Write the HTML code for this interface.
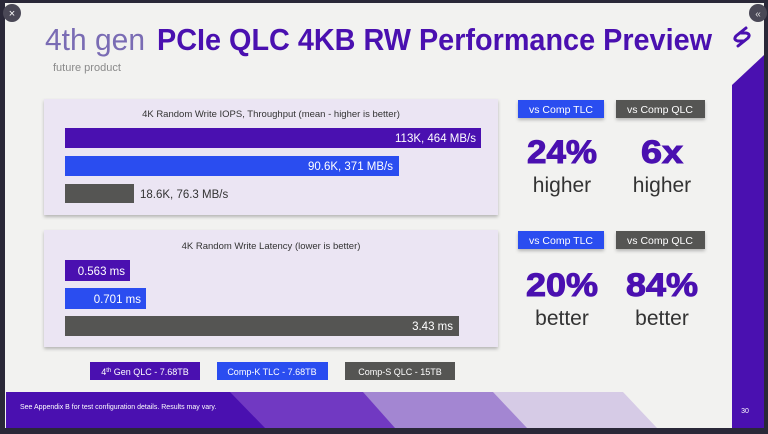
<!DOCTYPE html>
<html><head><meta charset="utf-8"><style>
html,body{margin:0;padding:0;background:#2a2838;}
svg{display:block;font-family:"Liberation Sans",sans-serif;}
</style></head><body>
<svg width="768" height="434" viewBox="0 0 768 434" xmlns="http://www.w3.org/2000/svg">
<defs>
<filter id="sh" x="-5%" y="-10%" width="110%" height="130%"><feDropShadow dx="0" dy="2" stdDeviation="1.5" flood-color="#000" flood-opacity="0.25"/></filter>
</defs>
<rect x="0" y="0" width="768" height="434" fill="#2a2838"/>
<rect x="5" y="3" width="759" height="425" fill="#f2f2f0"/>
<polygon points="732,85 764,55 764,428 732,428" fill="#4a10b0"/>
<text x="745" y="413" font-size="7" fill="#fff" text-anchor="middle">30</text>
<polygon points="623,392 657,428 6,428 6,392" fill="#d6cbe6"/>
<polygon points="493,392 527,428 6,428 6,392" fill="#a386d2"/>
<polygon points="363,392 395,428 6,428 6,392" fill="#7139c2"/>
<polygon points="230,392 265,428 6,428 6,392" fill="#4a10b0"/>
<text x="20" y="409" font-size="7" fill="#fff">See Appendix B for test configuration details. Results may vary.</text>
<text x="45" y="50" font-size="31" fill="#7a6cb4" textLength="100" lengthAdjust="spacingAndGlyphs">4th gen</text>
<text x="157" y="50" font-size="31" fill="#4a10b0" font-weight="bold" textLength="555" lengthAdjust="spacingAndGlyphs">PCIe QLC 4KB RW Performance Preview</text>
<text x="53" y="71" font-size="11" fill="#8a8a8a">future product</text>
<g fill="none" stroke="#4a10b0" stroke-width="3" stroke-linecap="round">
<path d="M746,28 L736,36 Q733,40 738,41 L744,41"/>
<path d="M738,46 L748,38 Q751,34 746,33 L740,33"/>
</g>
<circle cx="12" cy="13" r="9" fill="#4a4856"/>
<text x="12" y="17" font-size="11" fill="#fff" text-anchor="middle">×</text>
<circle cx="758" cy="13" r="9" fill="#4a4856"/>
<text x="758" y="17" font-size="10" fill="#ddd" text-anchor="middle">«</text>
<rect x="44" y="99" width="454" height="116" fill="#ebe5f3" filter="url(#sh)"/>
<text x="271" y="117" font-size="9.5" fill="#333" text-anchor="middle">4K Random Write IOPS, Throughput (mean - higher is better)</text>
<rect x="65" y="128" width="416" height="20" fill="#4a10b0"/>
<text x="476" y="142" font-size="11.5" fill="#fff" text-anchor="end">113K, 464 MB/s</text>
<rect x="65" y="156" width="334" height="20" fill="#2a4df0"/>
<text x="393" y="170" font-size="11.5" fill="#fff" text-anchor="end">90.6K, 371 MB/s</text>
<rect x="65" y="184" width="69" height="19" fill="#555553"/>
<text x="140" y="198" font-size="11.5" fill="#333">18.6K, 76.3 MB/s</text>
<rect x="44" y="230" width="454" height="117" fill="#ebe5f3" filter="url(#sh)"/>
<text x="271" y="249" font-size="9.5" fill="#333" text-anchor="middle">4K Random Write Latency (lower is better)</text>
<rect x="65" y="260" width="65" height="21" fill="#4a10b0"/>
<text x="125" y="275" font-size="11.5" fill="#fff" text-anchor="end">0.563 ms</text>
<rect x="65" y="288" width="81" height="21" fill="#2a4df0"/>
<text x="141" y="303" font-size="11.5" fill="#fff" text-anchor="end">0.701 ms</text>
<rect x="65" y="316" width="394" height="20" fill="#555553"/>
<text x="453" y="330" font-size="11.5" fill="#fff" text-anchor="end">3.43 ms</text>
<rect x="90" y="362" width="110" height="18" fill="#4a10b0"/>
<text x="145" y="375" font-size="9" fill="#fff" text-anchor="middle">4<tspan font-size="6" dy="-3">th</tspan><tspan dy="3"> Gen QLC - 7.68TB</tspan></text>
<rect x="217" y="362" width="111" height="18" fill="#2a4df0"/>
<text x="272" y="375" font-size="9" fill="#fff" text-anchor="middle">Comp-K TLC - 7.68TB</text>
<rect x="345" y="362" width="110" height="18" fill="#555553"/>
<text x="400" y="375" font-size="9" fill="#fff" text-anchor="middle">Comp-S QLC - 15TB</text>
<g filter="url(#sh)">
<rect x="518" y="100" width="86" height="18" fill="#2a4df0"/>
<rect x="616" y="100" width="89" height="18" fill="#555553"/>
<rect x="518" y="231" width="86" height="18" fill="#2a4df0"/>
<rect x="616" y="231" width="89" height="18" fill="#555553"/>
</g>
<g font-size="10.5" fill="#fff" text-anchor="middle">
<text x="561" y="113">vs Comp TLC</text>
<text x="660" y="113">vs Comp QLC</text>
<text x="561" y="244">vs Comp TLC</text>
<text x="660" y="244">vs Comp QLC</text>
</g>
<g font-size="32" font-weight="bold" fill="#4a10b0" text-anchor="middle" stroke="#4a10b0" stroke-width="1">
<text x="562" y="163" textLength="70" lengthAdjust="spacingAndGlyphs">24%</text>
<text x="662" y="163" textLength="42" lengthAdjust="spacingAndGlyphs">6x</text>
<text x="562" y="296" textLength="72" lengthAdjust="spacingAndGlyphs">20%</text>
<text x="662" y="296" textLength="72" lengthAdjust="spacingAndGlyphs">84%</text>
</g>
<g font-size="21" fill="#333" text-anchor="middle">
<text x="562" y="192">higher</text>
<text x="662" y="192">higher</text>
<text x="562" y="325">better</text>
<text x="662" y="325">better</text>
</g>
</svg>
</body></html>
